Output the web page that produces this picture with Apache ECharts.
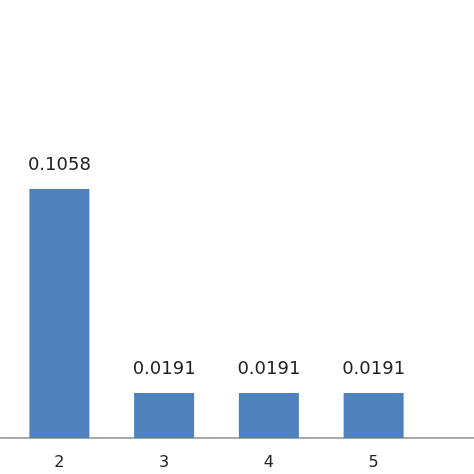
<!DOCTYPE html>
<html>
  <head>
    <meta charset="utf-8" />
    <title>ECharts</title>
    <script src="https://cdn.jsdelivr.net/npm/echarts@6/dist/echarts.min.js"></script>
    <style>
      body { margin: 0; background: #fff; }
    </style>
  </head>
  <body>
    <div id="main" style="width: 474px;height:474px;"></div>
    <script type="text/javascript">
var categories = ['2', '3', '4', '5'];
var values = [0.1058, 0.0191, 0.0191, 0.0191];

var chartDom = document.getElementById('main');
var myChart = echarts.init(chartDom);
var option;

option = {
  animation: false,
  grid: [
    // bars
    { left: 7, width: 419, top: 0, bottom: 36 },
    // full-width baseline (the axis runs past the crop on both sides)
    { left: 0, right: 0, top: 0, bottom: 36 }
  ],
  xAxis: [
    {
      type: 'category',
      gridIndex: 0,
      data: categories,
      axisLine: { show: false },
      axisTick: { show: false },
      axisLabel: {
        margin: 16,
        fontSize: 16,
        lineHeight: 17,
        fontFamily: 'DejaVu Sans',
        color: '#222'
      }
    },
    {
      type: 'value',
      gridIndex: 1,
      axisLine: { show: true, lineStyle: { color: '#8c8c8c', width: 1.5 } },
      axisTick: { show: false },
      axisLabel: { show: false },
      splitLine: { show: false }
    }
  ],
  yAxis: [
    { type: 'value', gridIndex: 0, min: 0, max: 0.1861, show: false },
    { type: 'value', gridIndex: 1, show: false }
  ],
  series: [
    {
      type: 'bar',
      data: values,
      barWidth: 60,
      z: 3,
      itemStyle: { color: '#4f81bd' },
      label: {
        show: true,
        position: 'top',
        distance: 15,
        fontSize: 18,
        fontFamily: 'DejaVu Sans',
        color: '#222',
        formatter: function (p) {
          return p.value.toFixed(4);
        }
      }
    }
  ]
};

option && myChart.setOption(option);
    </script>
  </body>
</html>
